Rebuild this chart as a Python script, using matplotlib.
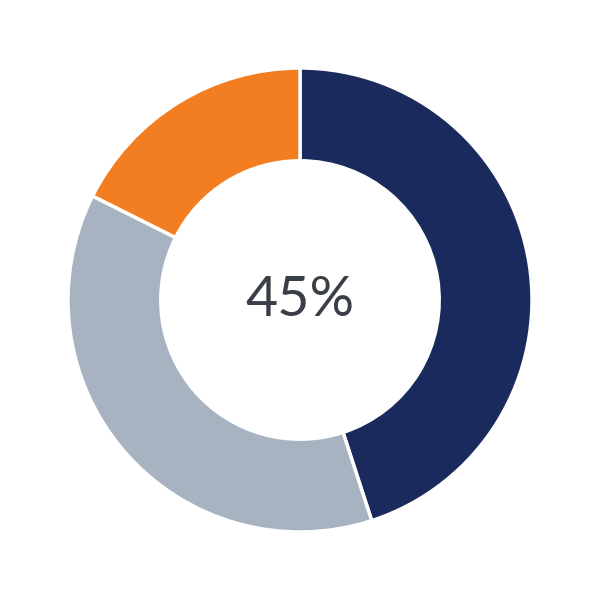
import matplotlib
matplotlib.use("Agg")
import matplotlib.pyplot as plt

labels = ["A", "B", "C"]
values = [45, 37.4, 17.6]
colors = ["#1b2a5c", "#a8b3c2", "#f37e21"]
center_text = "45%"

fig = plt.figure(figsize=(6, 6), dpi=100)
ax = fig.add_axes([0, 0, 1, 1])
ax.pie(values, colors=colors, startangle=90, counterclock=False,
       radius=1.0,
       wedgeprops=dict(width=0.40, edgecolor="white", linewidth=2.5))
ax.set_xlim(-1.293, 1.293)
ax.set_ylim(-1.293, 1.293)
ax.set_aspect("equal")
ax.axis("off")
ax.text(0, 0, center_text, ha="center", va="center", fontsize=40,
        family="Lato", color="#3a3f47")
fig.savefig("out.png", dpi=100, facecolor="white")
